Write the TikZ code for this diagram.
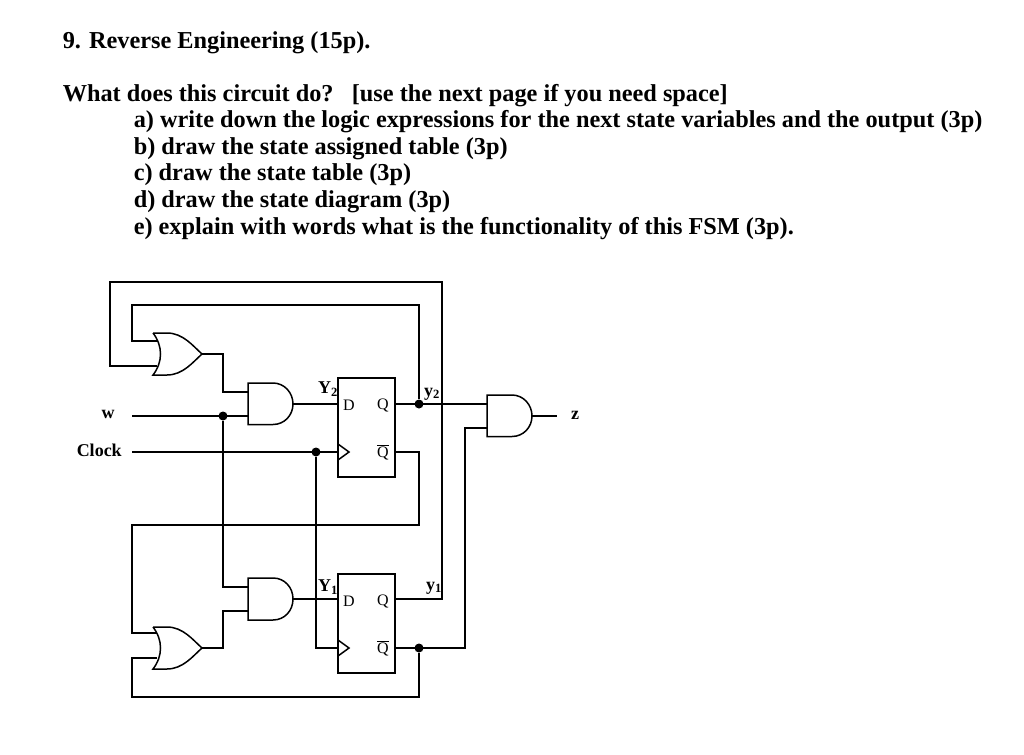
\documentclass[tikz,border=0pt]{standalone}
\usepackage{fontspec}
\setmainfont{Liberation Serif}
\begin{document}
\begin{tikzpicture}[x=1pt,y=-1pt,line width=1.5pt,
  txt/.style={anchor=west,inner sep=0pt,font=\fontsize{24.3}{24}\selectfont\bfseries},
  lbl/.style={inner sep=0pt,font=\fontsize{18}{18}\selectfont\bfseries},
  pin/.style={inner sep=0pt,font=\fontsize{16}{16}\selectfont},
  dot/.style={circle,fill,inner sep=0pt,minimum size=9pt}]
\useasboundingbox (0,0) rectangle (1024,754);
\node[txt] (t0) at (62,43) {9. Reverse Engineering (15p).};
\node[txt] (t1) at (62,96) {What does this circuit do?\ \ \ [use the next page if you need space]};
\node[txt] (t2) at (133,122) {a) write down the logic expressions for the next state variables and the output (3p)};
\node[txt] (t3) at (133,149) {b) draw the state assigned table (3p)};
\node[txt] (t4) at (133,175) {c) draw the state table (3p)};
\node[txt] (t5) at (133,202) {d) draw the state diagram (3p)};
\node[txt] (t6) at (133,229) {e) explain with words what is the functionality of this FSM (3p).};
% gates
\newcommand{\andg}[4]{\draw (#1,#2) -- (#1+25,#2) .. controls (#1+25+0.552*#4,#2) and (#1+45,#3-0.552*#4) .. (#1+45,#3) .. controls (#1+45,#3+0.552*#4) and (#1+25+0.552*#4,#3+#4) .. (#1+25,#3+#4) -- (#1,#3+#4) -- cycle;}
\newcommand{\org}[3]{\draw (#1,#2) -- (#1+14,#2) .. controls (#1+30,#2) and (#1+40,#3-8) .. (#1+49,#3) .. controls (#1+40,#3+8) and (#1+30,#3+21) .. (#1+14,#3+21) -- (#1,#3+21) .. controls (#1+10,#3+8) and (#1+10,#3-8) .. (#1,#2);}
\andg{248}{383}{404}{20.5}
\andg{248}{578}{599}{21}
\andg{487}{395}{416}{20.5}
\org{153}{333}{354}
\org{153}{627}{648}
% flip-flops
\node[draw,minimum width=57pt,minimum height=99pt,inner sep=0pt] (ff2) at (366.5,427.5) {};
\node[draw,minimum width=57pt,minimum height=99pt,inner sep=0pt] (ff1) at (366.5,623.5) {};
\node[pin] (d2) at (349,405) {D};
\node[pin] (q2) at (383,405) {Q};
\node[pin] (qb2) at (383,452) {$\overline{\mbox{Q}}$};
\node[pin] (d1) at (349,601) {D};
\node[pin] (q1) at (383,601) {Q};
\node[pin] (qb1) at (383,648) {$\overline{\mbox{Q}}$};
\draw (338,444) -- (349,452) -- (338,460);
\draw (338,640) -- (349,648) -- (338,656);
% labels
\node[lbl] (w) at (108,414) {w};
\node[lbl,anchor=west] (clk) at (76,450) {Clock};
\node[lbl] (z) at (575,415) {z};
\node[lbl] (Y2) at (328,389) {Y\textsubscript{2}};
\node[lbl] (y2) at (432,394) {y\textsubscript{2}};
\node[lbl] (Y1) at (328,587) {Y\textsubscript{1}};
\node[lbl] (y1) at (434,588) {y\textsubscript{1}};
% dots
\node[dot] (dw) at (223,416) {};
\node[dot] (dc) at (316,452) {};
\node[dot] (dq2) at (419,404) {};
\node[dot] (dqb1) at (419,648) {};
% wires
\draw (132,416) -- (248,416);
\draw (dw) -- (223,587) -- (248,587);
\draw (132,452) -- (338,452);
\draw (dc) -- (316,648) -- (338,648);
\draw (202,354) -- (223,354) -- (223,392) -- (248,392);
\draw (293,404) -- (338,404);
\draw (293,599) -- (338,599);
\draw (395,404) -- (487,404);
\draw (dq2) -- (419,305) -- (132,305) -- (132,341) -- (157,341);
\draw (395,599) -- (442,599) -- (442,282) -- (110,282) -- (110,366) -- (157,366);
\draw (395,452) -- (419,452) -- (419,525) -- (132,525) -- (132,633) -- (157,633);
\draw (395,648) -- (465,648) -- (465,428) -- (487,428);
\draw (dqb1) -- (419,697) -- (132,697) -- (132,658) -- (157,658);
\draw (202,648) -- (223,648) -- (223,611) -- (248,611);
\draw (532,416) -- (557,416);
\end{tikzpicture}
\end{document}
